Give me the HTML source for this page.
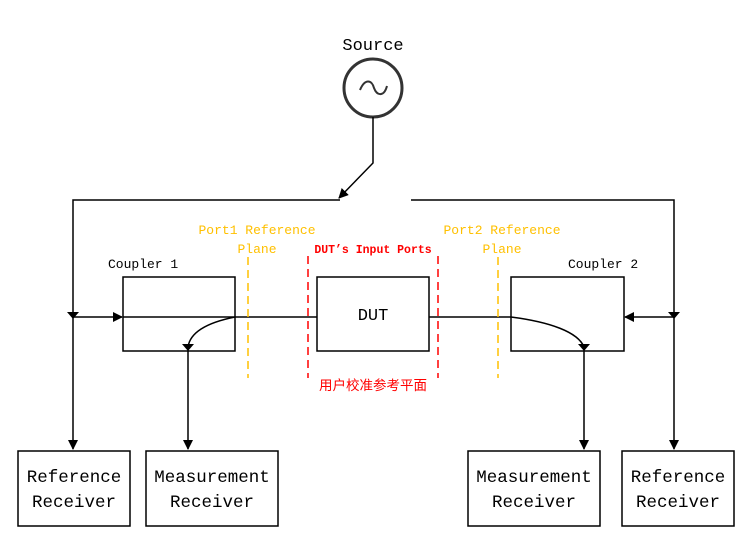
<!DOCTYPE html>
<html><head><meta charset="utf-8"><style>
html,body{margin:0;padding:0;background:#fff}
svg{display:block}
text{font-family:"Liberation Mono","Noto Sans CJK SC",monospace}
</style></head><body>
<svg width="752" height="548" viewBox="0 0 752 548" xmlns="http://www.w3.org/2000/svg">
<defs>
<marker id="a" markerWidth="10" markerHeight="10" refX="9" refY="5" orient="auto" markerUnits="userSpaceOnUse">
<path d="M0,0 L10,5 L0,10 z" fill="#000"/></marker>
</defs>
<g fill="none" stroke="#000" stroke-width="1.5">
<!-- source -->
<circle cx="373" cy="88" r="29" stroke="#333" stroke-width="3"/>
<path d="M360,90 C365,78 372,80 374,88 C377,96 384,97 387,86" stroke="#333" stroke-width="2"/>
<path d="M373,117 V163 L339,198" marker-end="url(#a)"/>
<path d="M340,200 H73 V449" marker-end="url(#a)"/>
<path d="M411,200 H674 V449" marker-end="url(#a)"/>
<!-- down arrows at junction -->
<path d="M73,317 H122" marker-end="url(#a)"/>
<path d="M674,317 H625" marker-end="url(#a)"/>
<!-- boxes -->
<rect x="123" y="277" width="112" height="74"/>
<rect x="317" y="277" width="112" height="74"/>
<rect x="511" y="277" width="113" height="74"/>
<path d="M123,317 H317"/>
<path d="M429,317 H511"/>
<path d="M235,317 C205,323 190,333 188,347"/>
<path d="M188,345 V449" marker-end="url(#a)"/>
<path d="M511,317 C550,322 578,332 584,347"/>
<path d="M584,345 V449" marker-end="url(#a)"/>
<!-- receivers -->
<rect x="18" y="451" width="112" height="75"/>
<rect x="146" y="451" width="132" height="75"/>
<rect x="468" y="451" width="132" height="75"/>
<rect x="622" y="451" width="112" height="75"/>
</g>
<g fill="#000">
<path d="M67,312 L79,312 L73,319z"/>
<path d="M668,312 L680,312 L674,319z"/>
<path d="M182,344 L194,344 L188,351z"/>
<path d="M578,344 L590,344 L584,351z"/>
</g>
<g stroke-width="1.5" stroke-dasharray="8,5">
<path d="M248,257 V378" stroke="#ffc000"/>
<path d="M498,257 V378" stroke="#ffc000"/>
<path d="M308,256 V378" stroke="#ff0000"/>
<path d="M438,256 V378" stroke="#ff0000"/>
</g>
<text x="373" y="50" font-size="17" text-anchor="middle">Source</text>
<text x="108" y="268" font-size="13">Coupler 1</text>
<text x="568" y="268" font-size="13">Coupler 2</text>
<text x="373" y="320" font-size="17" text-anchor="middle">DUT</text>
<g fill="#ffc000" font-size="13" text-anchor="middle">
<text x="257" y="234">Port1 Reference</text>
<text x="257" y="253">Plane</text>
<text x="502" y="234">Port2 Reference</text>
<text x="502" y="253">Plane</text>
</g>
<text x="373" y="253" font-size="11.5" fill="#ff0000" text-anchor="middle" font-weight="bold">DUT’s Input Ports</text>
<text x="373" y="390" font-size="13.5" fill="#ff0000" text-anchor="middle">用户校准参考平面</text>
<g font-size="17.5" text-anchor="middle">
<text x="74" y="482">Reference</text><text x="74" y="507">Receiver</text>
<text x="212" y="482">Measurement</text><text x="212" y="507">Receiver</text>
<text x="534" y="482">Measurement</text><text x="534" y="507">Receiver</text>
<text x="678" y="482">Reference</text><text x="678" y="507">Receiver</text>
</g>
</svg>
</body></html>
